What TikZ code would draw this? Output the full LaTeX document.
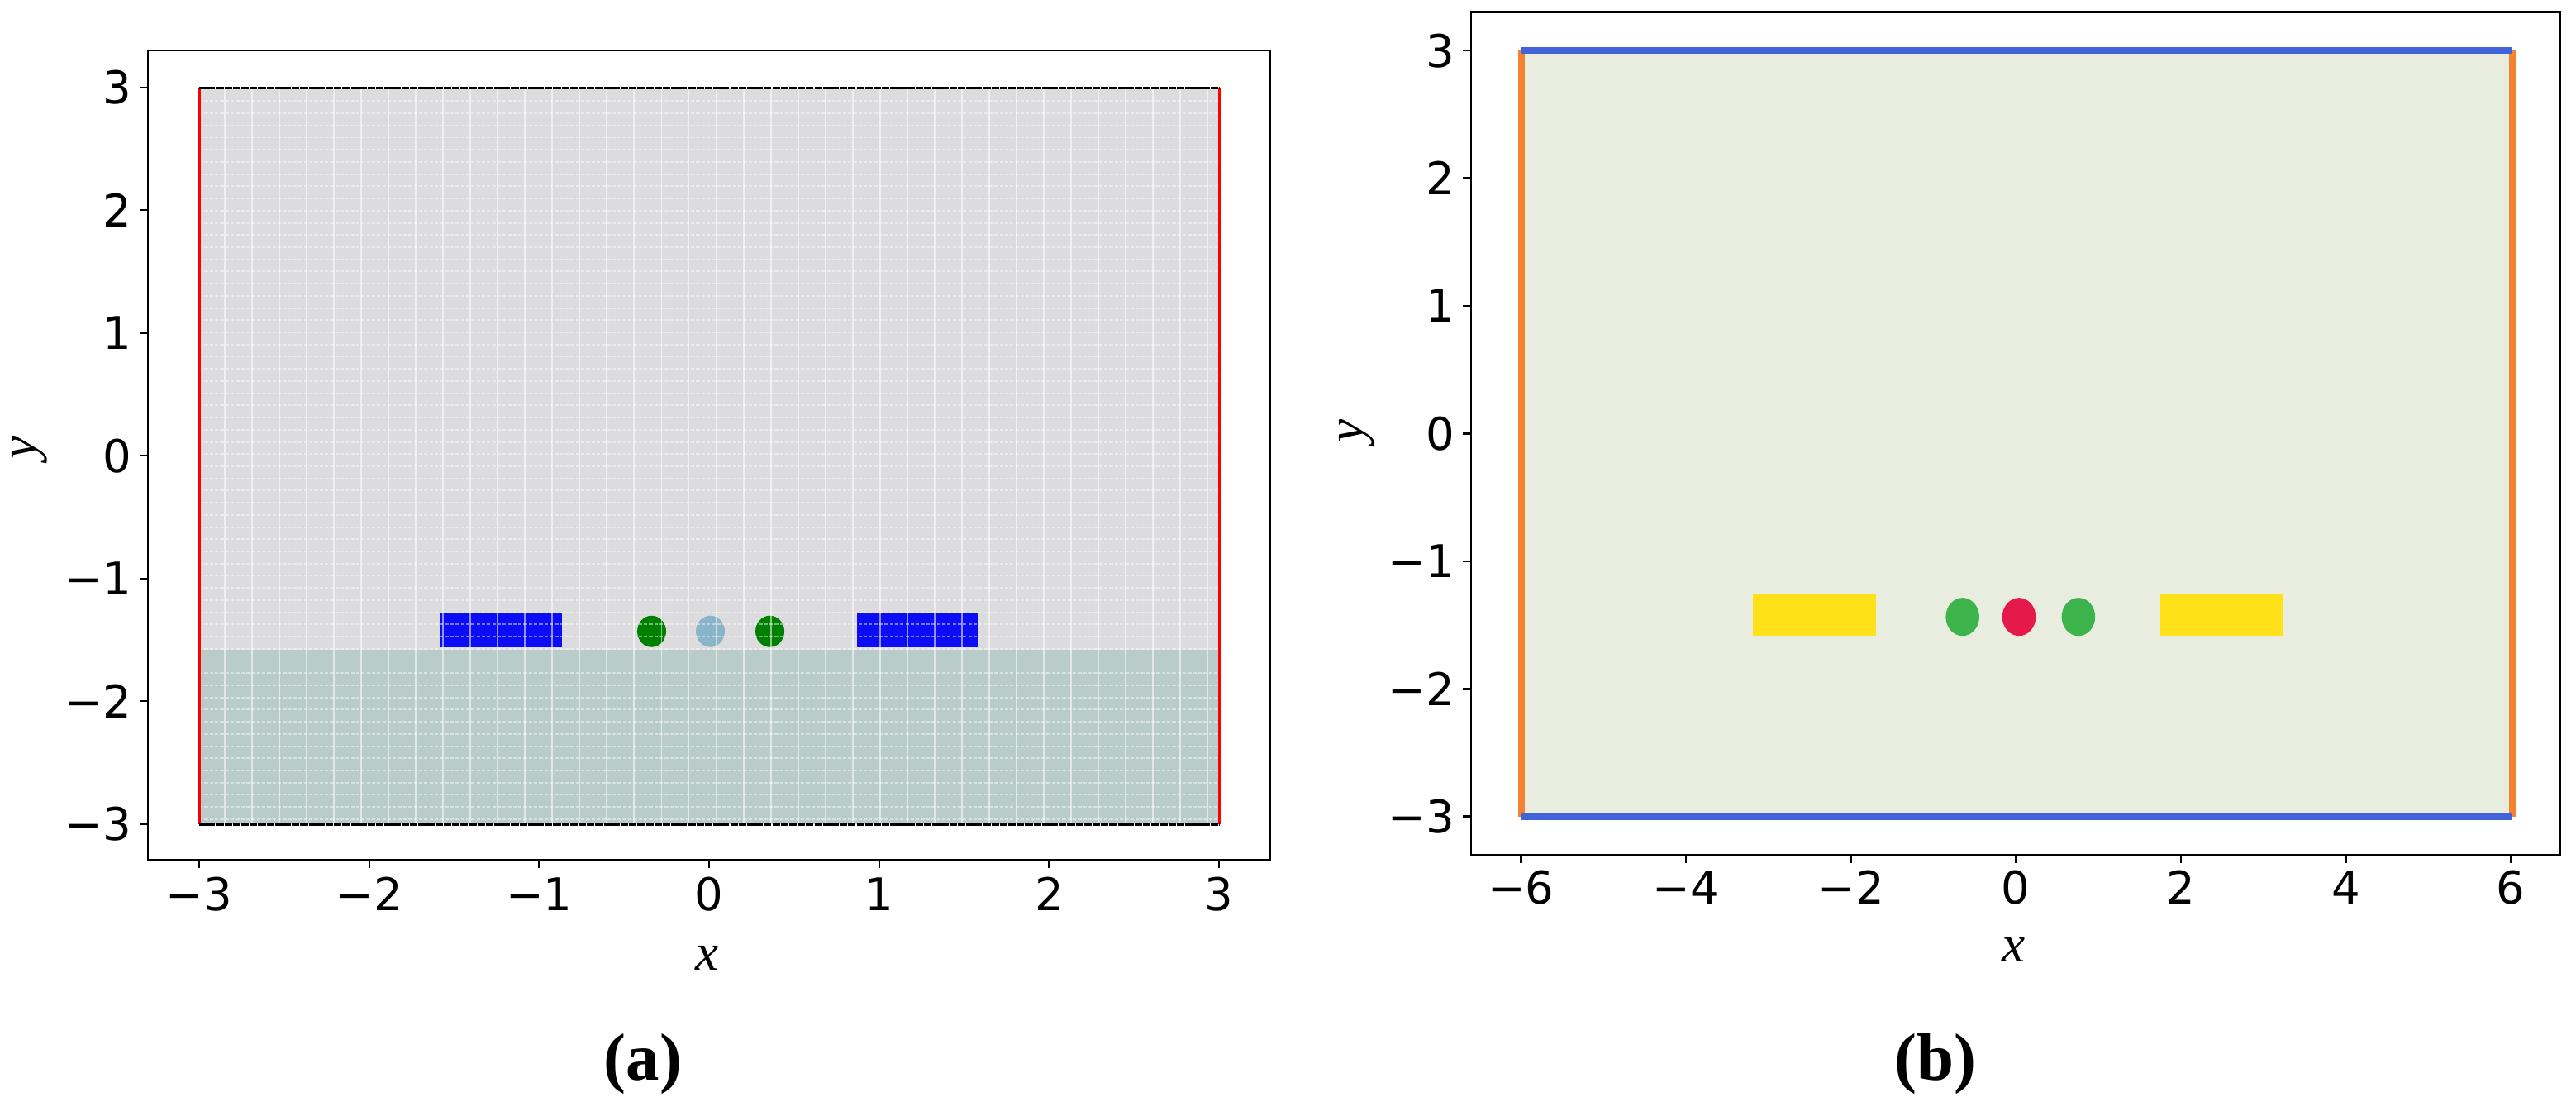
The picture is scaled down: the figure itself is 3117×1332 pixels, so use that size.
\documentclass[tikz,border=0pt]{standalone}
\usepackage{fontspec}
\newfontfamily\tickfont{DejaVu Sans}
\newfontfamily\labfont{Liberation Serif}
\definecolor{agray}{RGB}{220,220,222}
\definecolor{ateal}{RGB}{185,204,202}
\definecolor{ablue}{RGB}{12,12,245}
\definecolor{agreen}{RGB}{0,128,0}
\definecolor{alblue}{RGB}{138,180,200}
\definecolor{bbg}{RGB}{233,237,224}
\definecolor{bblue}{HTML}{4363D8}
\definecolor{borange}{HTML}{F58231}
\definecolor{bgreen}{HTML}{3CB44B}
\definecolor{bred}{HTML}{E6194B}
\definecolor{byellow}{HTML}{FFE119}
\tikzset{
  ticklab/.style={font=\tickfont\fontsize{15.5}{18}\selectfont, inner sep=0pt},
  axlab/.style={font=\labfont\itshape\fontsize{18}{20}\selectfont, inner sep=0pt},
  panlab/.style={font=\labfont\bfseries\fontsize{23}{26}\selectfont, inner sep=0pt, anchor=base},
  frameA/.style={line width=0.57pt, black},
  frameB/.style={line width=0.75pt, black},
}
\begin{document}
\begin{tikzpicture}[x=0.01cm,y=-0.01cm]
\useasboundingbox (0,0) rectangle (3117,1332);
\fill[white] (0,0) rectangle (3117,1332);

% ---------------- panel (a) data ----------------
\begin{scope}[shift={(8.58cm,-5.513cm)}, x=2.057cm, y=1.4845cm]
  \fill[agray] (-3,-1.575) rectangle (3,3);
  \fill[ateal] (-3,-3) rectangle (3,-1.575);
  \fill[ablue] (-1.583,-1.559) rectangle (-0.869,-1.276);
  \fill[ablue] (0.869,-1.559) rectangle (1.583,-1.276);
  \fill[agreen] (-0.34,-1.428) ellipse [x radius=0.085, y radius=0.128];
  \fill[alblue] (0.005,-1.428) ellipse [x radius=0.085, y radius=0.128];
  \fill[agreen] (0.355,-1.428) ellipse [x radius=0.085, y radius=0.128];
  % particle grid pattern
  \foreach \i in {0,...,36} {
    \draw[white, opacity=0.55, line width=0.55pt] ({-2.85+0.1605*\i},-3) -- ({-2.85+0.1605*\i},3);
  }
  \foreach \j in {0,...,59} {
    \draw[white, opacity=0.45, line width=0.55pt, dash pattern=on 1.2pt off 0.6pt] (-3,{2.89-0.0991*\j}) -- (3,{2.89-0.0991*\j});
  }
  % boundaries
  \draw[red, line width=0.85pt] (-3,-3) -- (-3,3);
  \draw[red, line width=0.85pt] (3,-3) -- (3,3);
  \draw[black, line width=0.85pt, dash pattern=on 2.6pt off 0.3pt] (-3,3) -- (3,3);
  \draw[black, line width=0.85pt, dash pattern=on 2.6pt off 0.3pt] (-3,-3) -- (3,-3);
\end{scope}

% ---------------- panel (b) data ----------------
\begin{scope}[shift={(24.393cm,-5.244cm)}, x=0.9983cm, y=1.5445cm]
  \fill[bbg] (-6,-3) rectangle (6,3);
  \fill[byellow] (-3.2,-1.58) rectangle (-1.71,-1.25);
  \fill[byellow] (1.73,-1.58) rectangle (3.23,-1.25);
  \fill[bgreen] (-0.661,-1.433) ellipse [x radius=0.203, y radius=0.149];
  \fill[bred] (0.023,-1.433) ellipse [x radius=0.203, y radius=0.149];
  \fill[bgreen] (0.743,-1.433) ellipse [x radius=0.203, y radius=0.149];
  \draw[borange, line width=2.3pt] (-6,-3) -- (-6,3);
  \draw[borange, line width=2.3pt] (6,-3) -- (6,3);
  \draw[bblue, line width=2.3pt] (-6,3) -- (6,3);
  \draw[bblue, line width=2.3pt] (-6,-3) -- (6,-3);
\end{scope}

% ---------------- panel (a) axes ----------------
\draw[frameA] (179.3,61) rectangle (1536.7,1040);
\foreach \v/\t in {-3/{−3},-2/{−2},-1/{−1},0/0,1/1,2/2,3/3} {
  \draw[frameA] ({858+205.7*\v},1040) -- ({858+205.7*\v},1050);
  \node[ticklab, anchor=base] (ax\v) at ({858+205.7*\v},1101.7) {\t};
  \draw[frameA] (169.3,{551.3-148.45*\v}) -- (179.3,{551.3-148.45*\v});
  \node[ticklab, anchor=base east] (ay\v) at (160,{551.3-148.45*\v+20}) {\t};
}
\node[axlab, anchor=base] (axlabA) at (856,1173) {x};
\node[axlab, rotate=90] (aylabA) at (36,541) {y};
\node[panlab] (capA) at (778,1306) {(a)};

% ---------------- panel (b) axes ----------------
\draw[frameB] (1780,14.3) rectangle (3098,1034.3);
\foreach \v/\t in {-6/{−6},-4/{−4},-2/{−2},0/0,2/2,4/4,6/6} {
  \draw[frameB] ({2439.3+99.83*\v},1034.3) -- ({2439.3+99.83*\v},1044);
  \node[ticklab, anchor=base] (bx\v) at ({2439.3+99.83*\v},1093) {\t};
}
\foreach \v/\t in {-3/{−3},-2/{−2},-1/{−1},0/0,1/1,2/2,3/3} {
  \draw[frameB] (1770,{524.4-154.45*\v}) -- (1780,{524.4-154.45*\v});
  \node[ticklab, anchor=base east] (by\v) at (1761,{524.4-154.45*\v+20}) {\t};
}
\node[axlab, anchor=base] (bxlab) at (2437,1163) {x};
\node[axlab, rotate=90] (bylab) at (1642,521) {y};
\node[panlab] (capB) at (2342,1306) {(b)};
\end{tikzpicture}
\end{document}
